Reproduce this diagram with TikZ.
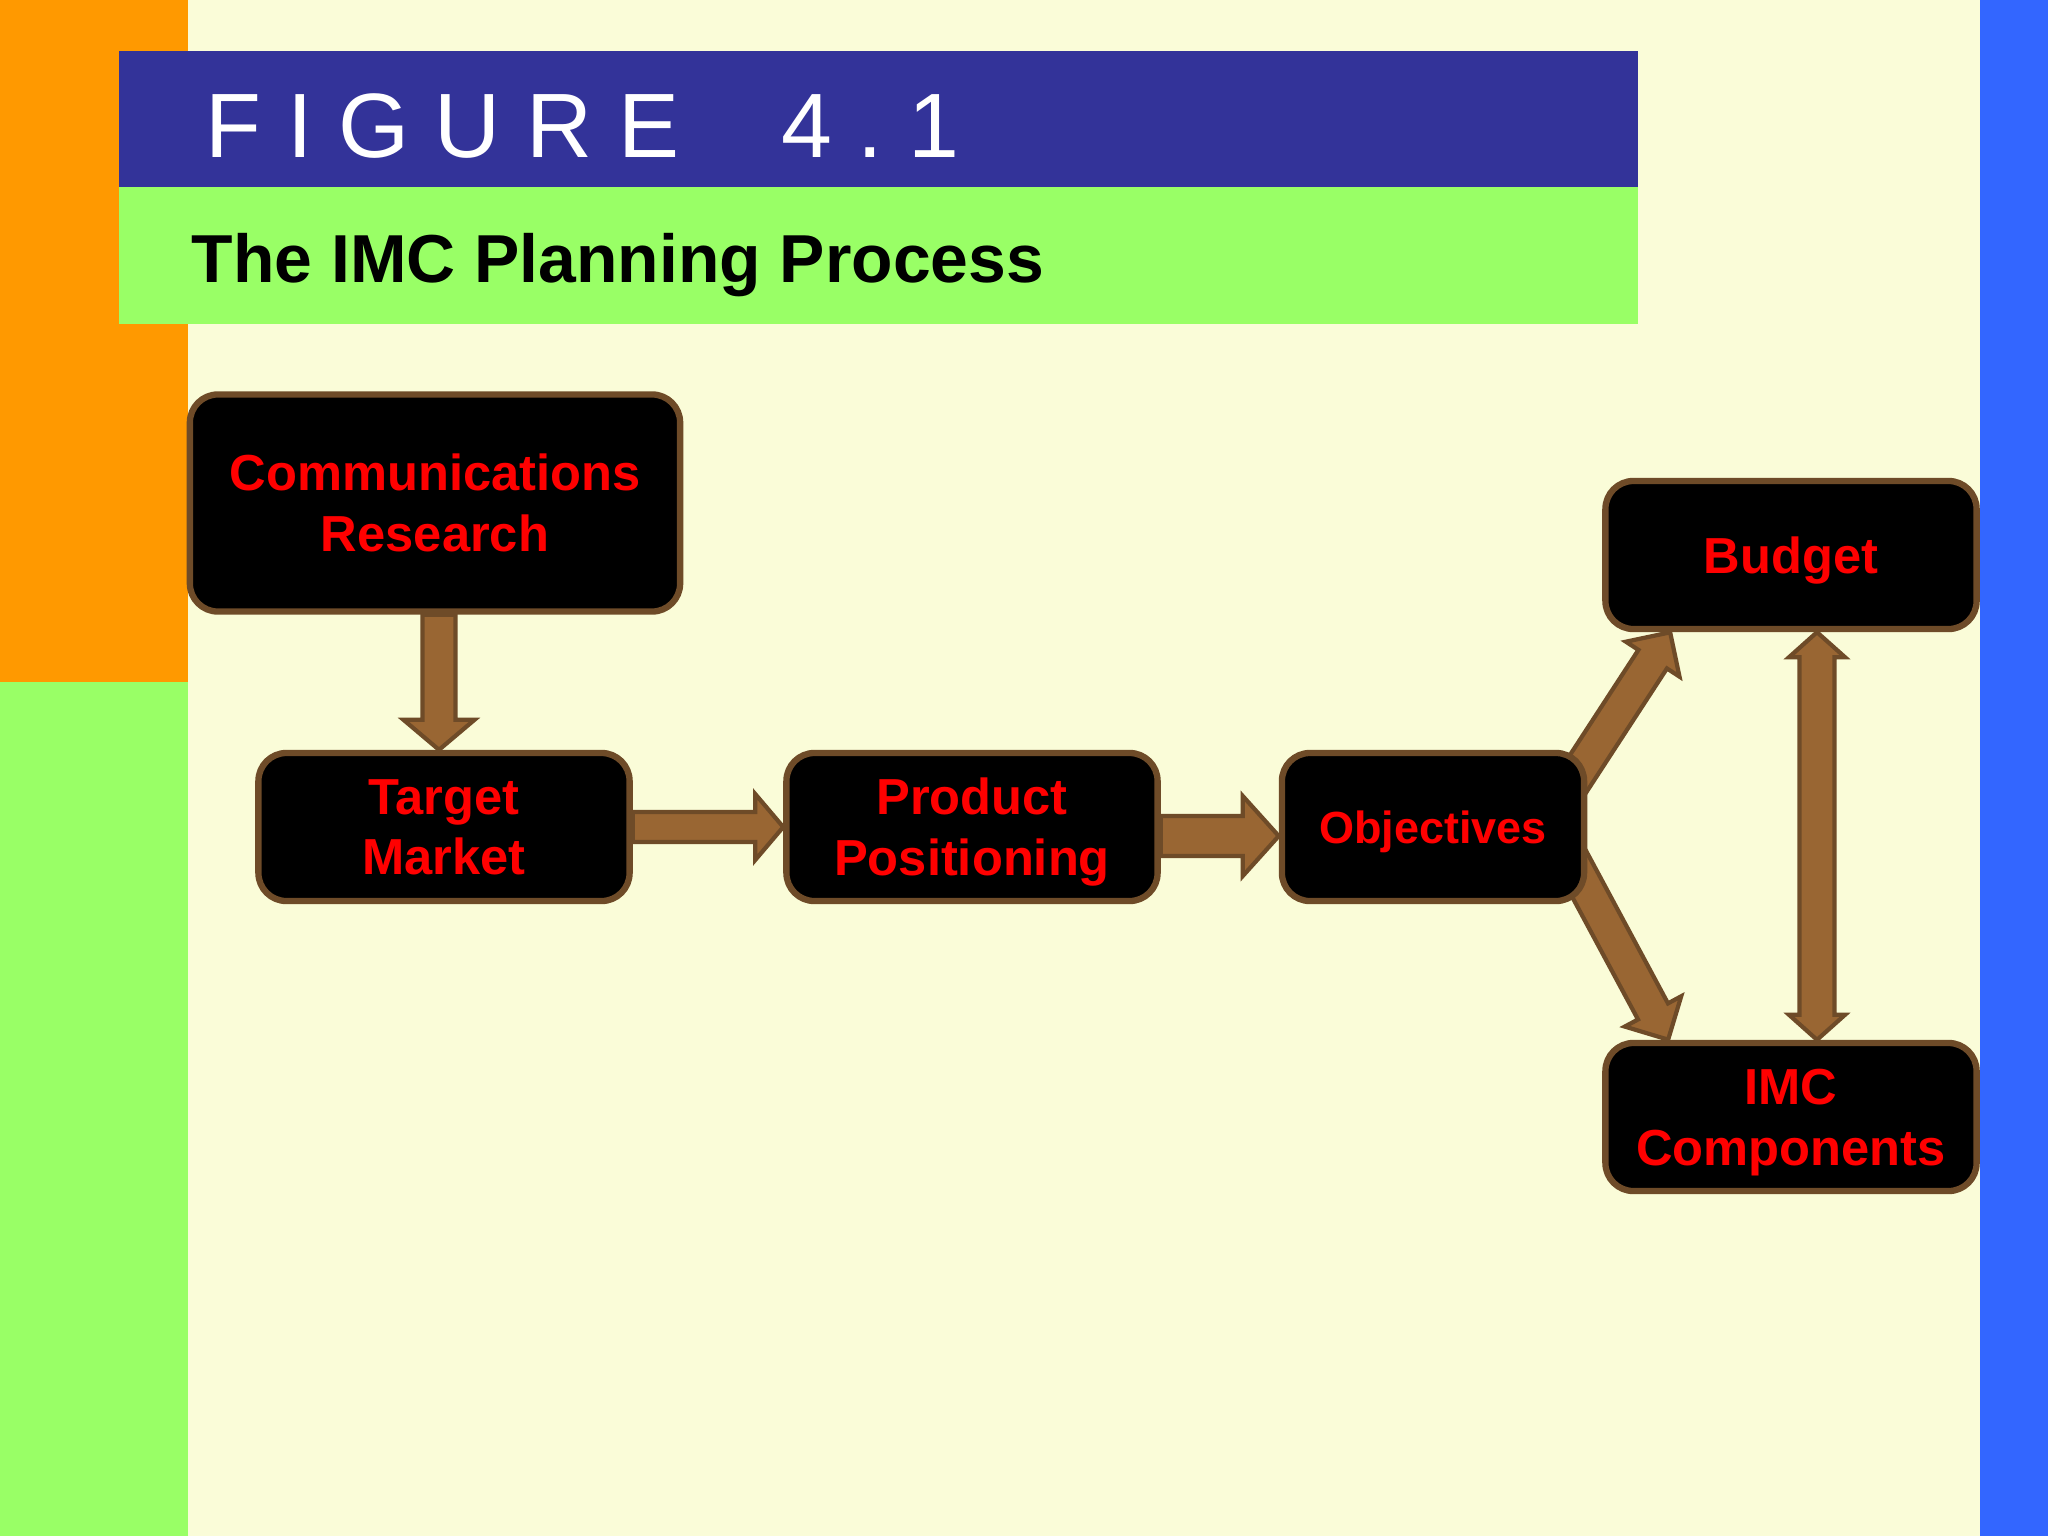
\documentclass[tikz,border=0pt]{standalone}
\usepackage{fontspec}
\setmainfont{Liberation Sans}
\newfontfamily\figfont[LetterSpace=28]{Liberation Sans}
\usepackage{tikz}
\usetikzlibrary{calc, positioning}
\usepackage{xcolor}
\definecolor{slidecream}{HTML}{FAFCD8}
\definecolor{barorange}{HTML}{FF9900}
\definecolor{bargreen}{HTML}{99FF66}
\definecolor{barblue}{HTML}{3366FF}
\definecolor{titleblue}{HTML}{333399}
\definecolor{boxedge}{HTML}{6E4B28}
\definecolor{arrowfill}{HTML}{996633}
\definecolor{labelred}{HTML}{FF0000}
\newcommand{\boxfont}{\fontsize{14.4}{17.3}\selectfont\bfseries}
\pgfdeclarelayer{back}
\pgfdeclarelayer{links}
\pgfsetlayers{back,links,main}
\tikzset{
  procbox/.style={rectangle, draw=boxedge, fill=black, line width=1.8pt,
                  rounded corners=8pt, minimum width=3.71cm, minimum height=1.48cm,
                  align=center, font=\boxfont, text=labelred, inner sep=0pt,
                  text depth=0pt},
  blockarrow/.style={draw=boxedge, fill=arrowfill, line width=1.2pt, line join=miter},
  figtitle/.style={anchor=base west, inner sep=0pt, text=white,
                   font=\figfont\fontsize{26}{30}\selectfont},
  subtitle/.style={anchor=base west, inner sep=0pt, text=black,
                   font=\fontsize{19.3}{23}\selectfont\bfseries},
}
% block arrow: from, to, shaft half width, head half width, head length
\newcommand{\blockarrow}[5]{%
  \draw[blockarrow] let \p1=($(#2)-(#1)$), \n1={veclen(\x1,\y1)}, \n2={atan2(\y1,\x1)} in
    [shift={(#1)}, rotate=\n2]
    (0cm,-#3) -- ({\n1-#5},-#3) -- ({\n1-#5},-#4) -- (\n1,0cm)
    -- ({\n1-#5},#4) -- ({\n1-#5},#3) -- (0cm,#3) -- cycle;}
% same, with a head at both ends
\newcommand{\dblockarrow}[5]{%
  \draw[blockarrow] let \p1=($(#2)-(#1)$), \n1={veclen(\x1,\y1)}, \n2={atan2(\y1,\x1)} in
    [shift={(#1)}, rotate=\n2]
    (0cm,0cm) -- (#5,-#4) -- (#5,-#3) -- ({\n1-#5},-#3) -- ({\n1-#5},-#4) -- (\n1,0cm)
    -- ({\n1-#5},#4) -- ({\n1-#5},#3) -- (#5,#3) -- (#5,#4) -- cycle;}

\begin{document}
\begin{tikzpicture}[x=0.01cm, y=-0.01cm]
  \useasboundingbox (0,0) rectangle (2048,1536);

  % --- slide background ---
  \begin{pgfonlayer}{back}
    \fill[slidecream] (0,0) rectangle (2048,1536);
    \fill[barorange]  (0,0) rectangle (188,682);
    \fill[bargreen]   (0,682) rectangle (188,1536);
    \fill[barblue]    (1980,0) rectangle (2048,1536);
    \fill[titleblue]  (119,51) rectangle (1638,187);
    \fill[bargreen]   (119,187) rectangle (1638,324);
  \end{pgfonlayer}

  % --- heading ---
  \node[figtitle] (fignum) at (205,157) {FIGURE\hspace{1.02cm}4.1};
  \node[subtitle] (figname) at (191,282) {The IMC Planning Process};

  % --- steps ---
  \node[procbox, minimum width=4.90cm, minimum height=2.17cm] (cr) at (435,503)
    {Communications\\Research};
  \node[procbox] (tm) at (444,827) {Target\\Market};
  \node[procbox] (pp) at (972,827) {Product\\Positioning};
  \node[procbox, minimum width=3.02cm, font=\fontsize{12.8}{15}\selectfont\bfseries]
    (ob) at (1433,827) {Objectives};
  \node[procbox] (bu) at (1791,555) {Budget};
  \node[procbox] (imc) at (1791,1117) {IMC\\Components};

  % --- links ---
  \begin{pgfonlayer}{links}
    \blockarrow{$(cr.south)+(4,0)$}{$(cr.south |- tm.north)+(4,0)$}{0.165cm}{0.355cm}{0.30cm}
    \blockarrow{tm.east}{pp.west}{0.15cm}{0.33cm}{0.28cm}
    \blockarrow{$(pp.east)+(0,9)$}{$(ob.west)+(0,9)$}{0.20cm}{0.40cm}{0.36cm}
    \blockarrow{$(ob.north east)+(-19,39)$}{$(bu.south west)+(68,0)$}{0.17cm}{0.32cm}{0.32cm}
    \blockarrow{$(ob.south east)+(-16,-45)$}{$(imc.north west)+(66,0)$}{0.17cm}{0.32cm}{0.32cm}
    \dblockarrow{$(bu.south)+(26,0)$}{$(imc.north)+(26,0)$}{0.175cm}{0.28cm}{0.25cm}
  \end{pgfonlayer}

\end{tikzpicture}
\end{document}
